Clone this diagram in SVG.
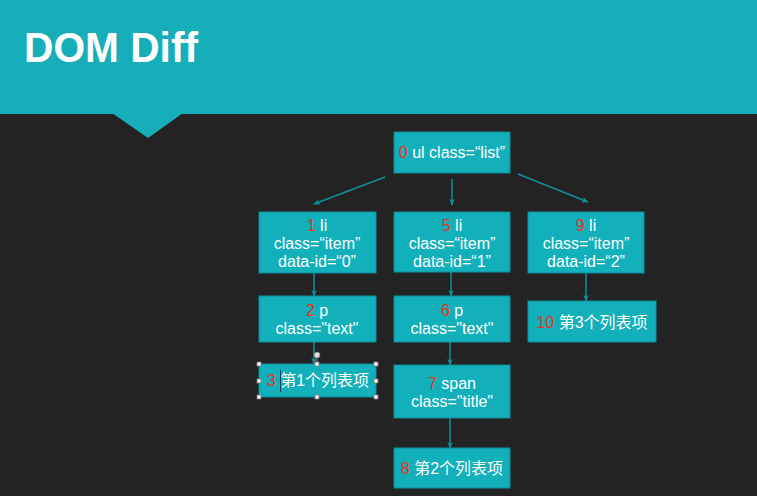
<svg xmlns="http://www.w3.org/2000/svg" width="757" height="496" viewBox="0 0 757 496">
<defs>
<pattern id="stripes" width="3" height="3" patternUnits="userSpaceOnUse" patternTransform="rotate(-45)">
<rect width="3" height="3" fill="#17b1bd"/>
<rect width="3" height="1" fill="#12a8b4"/>
</pattern>
<marker id="arr" viewBox="0 0 10 10" refX="9" refY="5" markerWidth="7" markerHeight="7" orient="auto" markerUnits="userSpaceOnUse">
<path d="M0,1 L10,5 L0,9 L3,5 Z" fill="#128f97"/>
</marker>
</defs>
<style>
.node{fill:#12b0bb;stroke:#0e8d96;stroke-width:1}
.t{font-family:"Liberation Sans","Noto Sans CJK SC",sans-serif;font-size:16px;fill:#ffffff;text-anchor:middle}
.n{fill:#e8331f}
.c{stroke:#128f97;stroke-width:1.5;fill:none}
.h{fill:#ffffff;stroke:#777;stroke-width:0.8}
</style>
<rect width="757" height="496" fill="#232323"/>
<rect width="757" height="114" fill="url(#stripes)"/>
<polygon points="112,113 183,113 148,138" fill="url(#stripes)"/>
<text x="24" y="62" font-family="Liberation Sans, sans-serif" font-weight="bold" font-size="42" fill="#ffffff" textLength="174" lengthAdjust="spacingAndGlyphs">DOM Diff</text>

<g id="connectors">
<line class="c" x1="385" y1="177" x2="314" y2="204" marker-end="url(#arr)"/>
<line class="c" x1="452" y1="179" x2="452" y2="205" marker-end="url(#arr)"/>
<line class="c" x1="518" y1="174" x2="588" y2="202" marker-end="url(#arr)"/>
<line class="c" x1="314" y1="273" x2="314" y2="296" marker-end="url(#arr)"/>
<line class="c" x1="451" y1="272" x2="451" y2="296" marker-end="url(#arr)"/>
<line class="c" x1="586" y1="273" x2="586" y2="301" marker-end="url(#arr)"/>
<line class="c" x1="314" y1="342" x2="314" y2="364" marker-end="url(#arr)"/>
<line class="c" x1="450" y1="342" x2="450" y2="365" marker-end="url(#arr)"/>
<line class="c" x1="450" y1="418" x2="450" y2="448" marker-end="url(#arr)"/>
</g>

<g id="node0">
<rect class="node" x="394" y="132" width="116" height="41"/>
<text class="t" x="452" y="158"><tspan class="n">0</tspan> ul class=“list”</text>
</g>
<g id="node1">
<rect class="node" x="259" y="212" width="117" height="61"/>
<text class="t" x="317" y="231"><tspan class="n">1</tspan> li</text>
<text class="t" x="317" y="249">class=“item”</text>
<text class="t" x="317" y="267">data-id=“0”</text>
</g>
<g id="node5">
<rect class="node" x="394" y="212" width="116" height="60"/>
<text class="t" x="452" y="231"><tspan class="n">5</tspan> li</text>
<text class="t" x="452" y="249">class=“item”</text>
<text class="t" x="452" y="267">data-id=“1”</text>
</g>
<g id="node9">
<rect class="node" x="528" y="212" width="116" height="61"/>
<text class="t" x="586" y="231"><tspan class="n">9</tspan> li</text>
<text class="t" x="586" y="249">class=“item”</text>
<text class="t" x="586" y="267">data-id=“2”</text>
</g>
<g id="node2">
<rect class="node" x="259" y="296" width="117" height="46"/>
<text class="t" x="317" y="316"><tspan class="n">2</tspan> p</text>
<text class="t" x="317" y="334">class="text"</text>
</g>
<g id="node6">
<rect class="node" x="394" y="296" width="116" height="46"/>
<text class="t" x="452" y="316"><tspan class="n">6</tspan> p</text>
<text class="t" x="452" y="334">class="text"</text>
</g>
<g id="node10">
<rect class="node" x="528" y="301" width="128" height="41"/>
<text class="t" x="592" y="328"><tspan class="n">10</tspan> 第3个列表项</text>
</g>
<g id="node3">
<rect class="node" x="259" y="364" width="117" height="33" stroke="#8a8a8a"/>
<text class="t" x="318" y="386"><tspan class="n">3</tspan> 第1个列表项</text>
<line x1="280.5" y1="370" x2="280.5" y2="392" stroke="#1a3a55" stroke-width="1"/>
<line x1="317" y1="357" x2="317" y2="364" stroke="#888" stroke-width="1"/>
<circle cx="317" cy="355" r="3" fill="#ddd" stroke="#777" stroke-width="0.8"/>
<rect class="h" x="257" y="362" width="4" height="4"/>
<rect class="h" x="315" y="362" width="4" height="4"/>
<rect class="h" x="374" y="362" width="4" height="4"/>
<rect class="h" x="257" y="379" width="4" height="4"/>
<rect class="h" x="374" y="379" width="4" height="4"/>
<rect class="h" x="257" y="395" width="4" height="4"/>
<rect class="h" x="315" y="395" width="4" height="4"/>
<rect class="h" x="374" y="395" width="4" height="4"/>
</g>
<g id="node7">
<rect class="node" x="394" y="365" width="116" height="53"/>
<text class="t" x="452" y="389"><tspan class="n">7</tspan> span</text>
<text class="t" x="452" y="407">class="title"</text>
</g>
<g id="node8">
<rect class="node" x="394" y="448" width="116" height="40"/>
<text class="t" x="452" y="474"><tspan class="n">8</tspan> 第2个列表项</text>
</g>
</svg>
